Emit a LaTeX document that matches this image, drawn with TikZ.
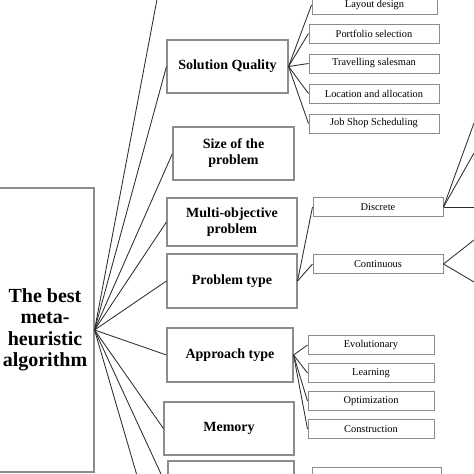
\documentclass[tikz,border=0pt]{standalone}
\usepackage{fontspec}
\setmainfont{Liberation Serif}
\usetikzlibrary{positioning}
\definecolor{boxgray}{RGB}{140,140,140}
\definecolor{linkgray}{RGB}{45,45,45}
\tikzset{
  rootbox/.style={draw=boxgray, line width=1.1pt, align=center, inner sep=2pt,
    minimum width=98pt, minimum height=284pt,
    font=\fontsize{20}{21.5}\selectfont\bfseries},
  mainbox/.style={draw=boxgray, line width=1.1pt, align=center, inner sep=2pt,
    minimum height=53pt, font=\fontsize{14}{16}\selectfont\bfseries},
  leafbox/.style={draw=boxgray, line width=1pt, align=center, inner sep=1pt,
    minimum width=130pt, minimum height=19pt, font=\fontsize{10.4}{12}\selectfont},
  link/.style={draw=linkgray, line width=0.85pt}
}
\begin{document}
\begin{tikzpicture}[x=1pt, y=-1pt]
  \useasboundingbox (0,0) rectangle (474,474);
  \clip (0,0) rectangle (474,474);
  % root
  \node[rootbox] (root) at (45,330) {The best\\meta-\\heuristic\\algorithm};
  % first level
  \node[mainbox, minimum width=130pt] (top) at (230,-40) {};
  \node[mainbox, minimum width=121pt] (quality) at (227.5,66.5) {Solution Quality};
  \node[mainbox, minimum width=121pt] (size) at (233.5,153.5) {Size of the\\problem};
  \node[mainbox, minimum width=130pt, minimum height=48pt] (multi) at (232,222) {Multi-objective\\problem};
  \node[mainbox, minimum width=130pt, minimum height=54pt] (ptype) at (232,281) {Problem type};
  \node[mainbox, minimum width=126pt, minimum height=54pt] (approach) at (230,355) {Approach type};
  \node[mainbox, minimum width=130pt] (memory) at (229,428.5) {Memory};
  \node[mainbox, minimum width=126pt, minimum height=54pt] (nextA) at (231,488) {};
  \node[mainbox, minimum width=126pt, minimum height=54pt] (nextB) at (233,587) {};
  % solution quality leaves
  \node[leafbox, minimum width=125pt] (layout) at (374.5,5) {Layout design};
  \node[leafbox] (portfolio) at (374,33.5) {Portfolio selection};
  \node[leafbox, below=10pt of portfolio] (salesman) {Travelling salesman};
  \node[leafbox, below=10pt of salesman] (location) {Location and allocation};
  \node[leafbox, below=10pt of location] (jobshop) {Job Shop Scheduling};
  % problem type leaves
  \node[leafbox] (discrete) at (378,207) {Discrete};
  \node[leafbox] (continuous) at (378,264) {Continuous};
  \node[leafbox, anchor=west] (discA) at (474,123) {};
  \node[leafbox, anchor=west] (discB) at (474,153) {};
  \node[leafbox, anchor=west] (discC) at (473.5,207) {};
  \node[leafbox, anchor=west] (contA) at (474,240) {};
  \node[leafbox, anchor=west] (contB) at (474,282) {};
  % approach type leaves
  \node[leafbox, minimum width=126pt] (evolution) at (371,345) {Evolutionary};
  \node[leafbox, minimum width=126pt, below=8pt of evolution] (learning) {Learning};
  \node[leafbox, minimum width=126pt, below=8pt of learning] (optim) {Optimization};
  \node[leafbox, minimum width=126pt, below=8pt of optim] (construct) {Construction};
  \node[leafbox, minimum width=129pt] (nextleaf) at (376.5,476.5) {};
  % connectors
  \draw[link] (root.east) -- (top.west);
  \draw[link] (root.east) -- (quality.west);
  \draw[link] (root.east) -- (size.west);
  \draw[link] (root.east) -- (multi.west);
  \draw[link] (root.east) -- (ptype.west);
  \draw[link] (root.east) -- (approach.west);
  \draw[link] (root.east) -- (memory.west);
  \draw[link] (root.east) -- (nextA.west);
  \draw[link] (root.east) -- (nextB.west);
  \draw[link] (quality.east) -- (layout.west);
  \draw[link] (quality.east) -- (portfolio.west);
  \draw[link] (quality.east) -- (salesman.west);
  \draw[link] (quality.east) -- (location.west);
  \draw[link] (quality.east) -- (jobshop.west);
  \draw[link] (ptype.east) -- (discrete.west);
  \draw[link] (ptype.east) -- (continuous.west);
  \draw[link] (discrete.east) -- (discA.west);
  \draw[link] (discrete.east) -- (discB.west);
  \draw[link] (discrete.east) -- (discC.west);
  \draw[link] (continuous.east) -- (contA.west);
  \draw[link] (continuous.east) -- (contB.west);
  \draw[link] (approach.east) -- (evolution.west);
  \draw[link] (approach.east) -- (learning.west);
  \draw[link] (approach.east) -- (optim.west);
  \draw[link] (approach.east) -- (construct.west);
\end{tikzpicture}
\end{document}
